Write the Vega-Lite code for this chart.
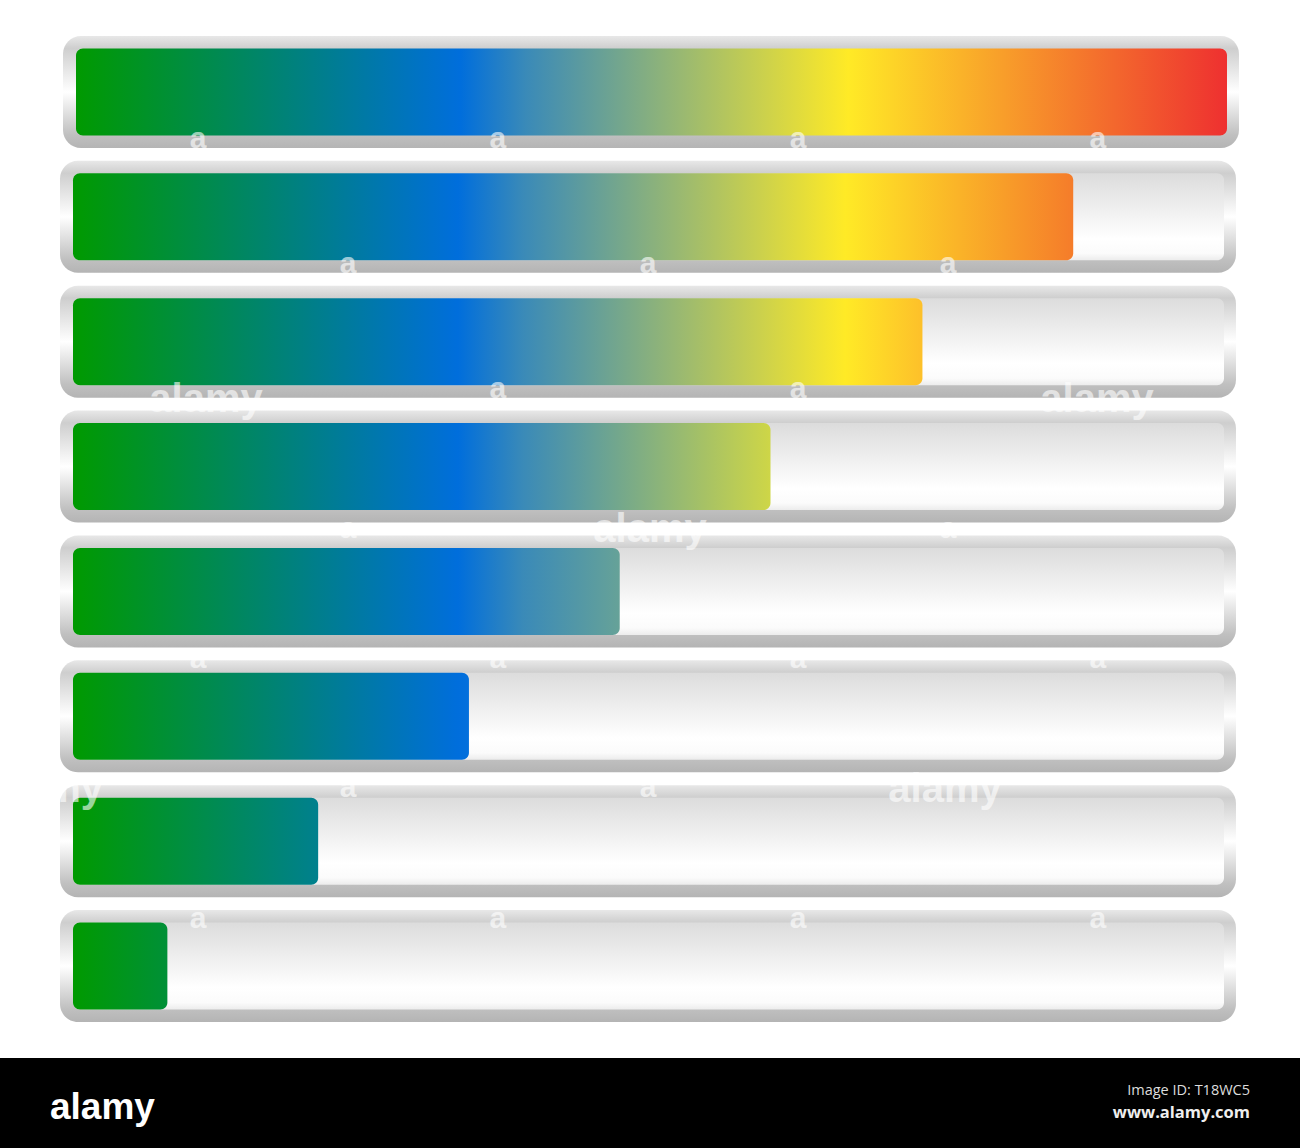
{"$schema":"https://vega.github.io/schema/vega-lite/v6.json","autosize":{"type":"none"},"width":1300,"height":1148,"padding":0,"background":"#ffffff","config":{"view":{"stroke":null}},
"data":{"values":[{"row":1,"start":0,"full":100,"value":100},{"row":2,"start":0,"full":100,"value":86.9},{"row":3,"start":0,"full":100,"value":73.8},{"row":4,"start":0,"full":100,"value":60.6},{"row":5,"start":0,"full":100,"value":47.5},{"row":6,"start":0,"full":100,"value":34.4},{"row":7,"start":0,"full":100,"value":21.3},{"row":8,"start":0,"full":100,"value":8.2}]},
"encoding":{"y":{"field":"row","type":"quantitative","axis":null,"scale":{"domain":[0.26317,9.45739],"reverse":true,"nice":false,"zero":false}},"x":{"field":"start","type":"quantitative","axis":null,"scale":{"domain":[-6.342,106.603],"nice":false,"zero":false}}},
"layer":[
{"transform":[{"filter":"datum.row==1"}],"mark":{"type":"rect","height":112,"cornerRadius":18,"xOffset":-10,"x2Offset":15,"fill":{"gradient":"linear","x1":0,"y1":0,"x2":0,"y2":1,"stops":[{"offset":0,"color":"#e8e8e8"},{"offset":0.11,"color":"#cecece"},{"offset":0.5,"color":"#ffffff"},{"offset":0.88,"color":"#c0c0c0"},{"offset":1,"color":"#b4b4b4"}]}},"encoding":{"x2":{"field":"full"}}},
{"transform":[{"filter":"datum.row>1"}],"mark":{"type":"rect","height":112,"cornerRadius":18,"xOffset":-13,"x2Offset":12,"fill":{"gradient":"linear","x1":0,"y1":0,"x2":0,"y2":1,"stops":[{"offset":0,"color":"#e8e8e8"},{"offset":0.11,"color":"#cecece"},{"offset":0.5,"color":"#ffffff"},{"offset":0.88,"color":"#c0c0c0"},{"offset":1,"color":"#b4b4b4"}]}},"encoding":{"x2":{"field":"full"}}},
{"transform":[{"filter":"datum.row>1"}],"mark":{"type":"rect","height":87,"cornerRadius":7,"fill":{"gradient":"linear","x1":0,"y1":0,"x2":0,"y2":1,"stops":[{"offset":0,"color":"#dcdcdc"},{"offset":0.75,"color":"#ffffff"},{"offset":0.92,"color":"#fbfbfb"},{"offset":1,"color":"#ececec"}]}},"encoding":{"x2":{"field":"full"}}},
{"transform":[{"filter":"datum.row==1"}],"mark":{"type":"rect","height":87,"cornerRadius":7,"xOffset":3,"x2Offset":3,"fill":{"gradient":"linear","x1":0,"y1":0,"x2":1,"y2":0,"stops":[{"offset":0,"color":"#009a00"},{"offset":0.334,"color":"#006edc"},{"offset":0.391,"color":"#3a8ab8"},{"offset":0.671,"color":"#ffea26"},{"offset":1,"color":"#ee3030"}]}},"encoding":{"x2":{"field":"value"}}},
{"transform":[{"filter":"datum.row==2"}],"mark":{"type":"rect","height":87,"cornerRadius":7,"fill":{"gradient":"linear","x1":0,"y1":0,"x2":1,"y2":0,"stops":[{"offset":0,"color":"#009a00"},{"offset":0.385,"color":"#006edc"},{"offset":0.45,"color":"#3a8ab8"},{"offset":0.772,"color":"#ffea26"},{"offset":1,"color":"#f57c2a"}]}},"encoding":{"x2":{"field":"value"}}},
{"transform":[{"filter":"datum.row==3"}],"mark":{"type":"rect","height":87,"cornerRadius":7,"fill":{"gradient":"linear","x1":0,"y1":0,"x2":1,"y2":0,"stops":[{"offset":0,"color":"#009a00"},{"offset":0.453,"color":"#006edc"},{"offset":0.53,"color":"#3a8ab8"},{"offset":0.909,"color":"#ffea26"},{"offset":1,"color":"#fdc02a"}]}},"encoding":{"x2":{"field":"value"}}},
{"transform":[{"filter":"datum.row==4"}],"mark":{"type":"rect","height":87,"cornerRadius":7,"fill":{"gradient":"linear","x1":0,"y1":0,"x2":1,"y2":0,"stops":[{"offset":0,"color":"#009a00"},{"offset":0.552,"color":"#006edc"},{"offset":0.645,"color":"#3a8ab8"},{"offset":1,"color":"#ced647"}]}},"encoding":{"x2":{"field":"value"}}},
{"transform":[{"filter":"datum.row==5"}],"mark":{"type":"rect","height":87,"cornerRadius":7,"fill":{"gradient":"linear","x1":0,"y1":0,"x2":1,"y2":0,"stops":[{"offset":0,"color":"#009a00"},{"offset":0.704,"color":"#006edc"},{"offset":0.823,"color":"#3a8ab8"},{"offset":1,"color":"#66a298"}]}},"encoding":{"x2":{"field":"value"}}},
{"transform":[{"filter":"datum.row==6"}],"mark":{"type":"rect","height":87,"cornerRadius":7,"fill":{"gradient":"linear","x1":0,"y1":0,"x2":1,"y2":0,"stops":[{"offset":0,"color":"#009a00"},{"offset":0.972,"color":"#006edc"},{"offset":1,"color":"#0470dc"}]}},"encoding":{"x2":{"field":"value"}}},
{"transform":[{"filter":"datum.row==7"}],"mark":{"type":"rect","height":87,"cornerRadius":7,"fill":{"gradient":"linear","x1":0,"y1":0,"x2":1,"y2":0,"stops":[{"offset":0,"color":"#009a00"},{"offset":1,"color":"#00808e"}]}},"encoding":{"x2":{"field":"value"}}},
{"transform":[{"filter":"datum.row==8"}],"mark":{"type":"rect","height":87,"cornerRadius":7,"fill":{"gradient":"linear","x1":0,"y1":0,"x2":1,"y2":0,"stops":[{"offset":0,"color":"#009a00"},{"offset":1,"color":"#009037"}]}},"encoding":{"x2":{"field":"value"}}},
{"data":{"values":[{"t":"alamy","p":11.555,"r":3.563},{"t":"alamy","p":88.97,"r":3.563},{"t":"alamy","p":50.13,"r":4.604},{"t":"alamy","p":75.76,"r":6.686}]},"mark":{"type":"text","font":"Liberation Sans","fontWeight":"bold","fontSize":40,"align":"center","baseline":"alphabetic","color":"#ffffff","opacity":0.6},"encoding":{"x":{"field":"p","type":"quantitative"},"y":{"field":"r","type":"quantitative"},"text":{"field":"t"}}},
{"data":{"values":[{"t":"my","p":2.606,"r":6.686}]},"mark":{"type":"text","font":"Liberation Sans","fontWeight":"bold","fontSize":40,"align":"right","baseline":"alphabetic","color":"#ffffff","opacity":0.6},"encoding":{"x":{"field":"p","type":"quantitative"},"y":{"field":"r","type":"quantitative"},"text":{"field":"t"}}},
{"data":{"values":[{"t":"a","p":10.86,"r":1.449},{"t":"a","p":36.92,"r":1.449},{"t":"a","p":62.99,"r":1.449},{"t":"a","p":89.05,"r":1.449},{"t":"a","p":23.89,"r":2.45},{"t":"a","p":49.96,"r":2.45},{"t":"a","p":76.02,"r":2.45},{"t":"a","p":36.92,"r":3.451},{"t":"a","p":62.99,"r":3.451},{"t":"a","p":23.89,"r":4.572},{"t":"a","p":76.02,"r":4.572},{"t":"a","p":10.86,"r":5.613},{"t":"a","p":36.92,"r":5.613},{"t":"a","p":62.99,"r":5.613},{"t":"a","p":89.05,"r":5.613},{"t":"a","p":23.89,"r":6.646},{"t":"a","p":49.96,"r":6.646},{"t":"a","p":10.86,"r":7.696},{"t":"a","p":36.92,"r":7.696},{"t":"a","p":62.99,"r":7.696},{"t":"a","p":89.05,"r":7.696}]},"mark":{"type":"text","font":"Liberation Sans","fontWeight":"bold","fontSize":30,"align":"center","baseline":"alphabetic","color":"#ffffff","opacity":0.6},"encoding":{"x":{"field":"p","type":"quantitative"},"y":{"field":"r","type":"quantitative"},"text":{"field":"t"}}},
{"data":{"values":[{"a":-6.342,"b":106.603,"r":8.737,"r2":9.45739}]},"mark":{"type":"rect","color":"#000000"},"encoding":{"x":{"field":"a","type":"quantitative"},"x2":{"field":"b"},"y":{"field":"r","type":"quantitative"},"y2":{"field":"r2"}}},
{"data":{"values":[{"t":"alamy","p":-1.998,"r":9.225}]},"mark":{"type":"text","font":"Liberation Sans","fontWeight":"bold","fontSize":37,"align":"left","baseline":"alphabetic","color":"#ffffff"},"encoding":{"x":{"field":"p","type":"quantitative"},"y":{"field":"r","type":"quantitative"},"text":{"field":"t"}}},
{"data":{"values":[{"t":"Image ID: T18WC5","p":102.26,"r":9.033}]},"mark":{"type":"text","font":"Open Sans","fontSize":14.5,"align":"right","baseline":"alphabetic","color":"#dddddd"},"encoding":{"x":{"field":"p","type":"quantitative"},"y":{"field":"r","type":"quantitative"},"text":{"field":"t"}}},
{"data":{"values":[{"t":"www.alamy.com","p":102.26,"r":9.217}]},"mark":{"type":"text","font":"Open Sans","fontWeight":"bold","fontSize":16.5,"align":"right","baseline":"alphabetic","color":"#eeeeee"},"encoding":{"x":{"field":"p","type":"quantitative"},"y":{"field":"r","type":"quantitative"},"text":{"field":"t"}}}
]}
